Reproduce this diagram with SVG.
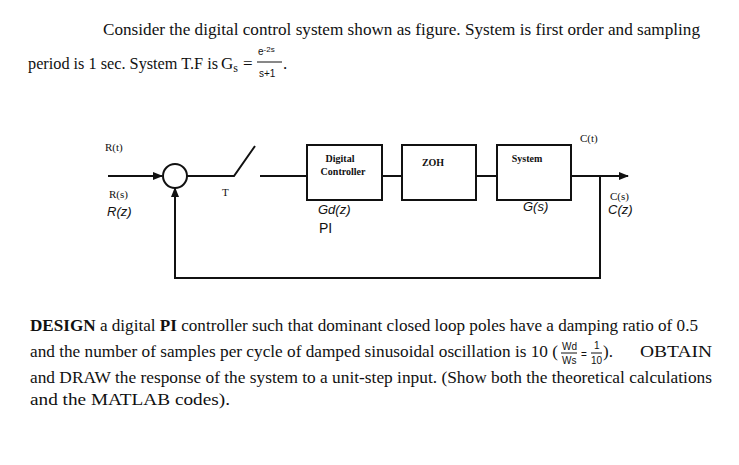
<svg xmlns="http://www.w3.org/2000/svg" width="739" height="465" viewBox="0 0 739 465">
<style>
.t{font-family:"Liberation Serif",serif;font-size:17px;fill:#111}
.s{font-family:"Liberation Serif",serif;font-size:11px;fill:#111}
.b{font-family:"Liberation Serif",serif;font-size:10px;font-weight:bold;fill:#111;text-anchor:middle}
.i{font-family:"Liberation Sans",sans-serif;font-size:13px;font-style:italic;fill:#111}
.m{font-family:"Liberation Sans",sans-serif;font-size:10px;fill:#111}
.box{fill:#fff;stroke:#111;stroke-width:2}
.ln{fill:none;stroke:#111;stroke-width:2}
</style>
<defs><marker id="a" markerWidth="10" markerHeight="8" refX="9" refY="4" orient="auto" markerUnits="userSpaceOnUse"><path d="M0,0L10,4L0,8z" fill="#111"/></marker></defs>
<rect width="739" height="465" fill="#fff"/>
<text class="t" x="103" y="35" textLength="597" lengthAdjust="spacingAndGlyphs">Consider the digital control system shown as figure. System is first order and sampling</text>
<text class="t" x="28" y="69" textLength="190" lengthAdjust="spacingAndGlyphs">period is 1 sec. System T.F is</text>
<text class="t" x="221" y="69">G<tspan font-size="12" dy="3">s</tspan></text>
<text class="t" x="243" y="69">=</text>
<line x1="257" y1="62" x2="282" y2="62" stroke="#111" stroke-width="1"/>
<text class="m" x="258" y="55">e<tspan font-size="8" dy="-3">-2s</tspan></text>
<text class="m" x="259" y="77">s+1</text>
<text class="t" x="283" y="69">.</text>
<g id="connectors">
<path class="ln" d="M108,176H162" marker-end="url(#a)"/>
<path class="ln" d="M186,176H234L255,146"/>
<path class="ln" d="M260,176H307"/>
<path class="ln" d="M382,176H402"/>
<path class="ln" d="M476,176H497"/>
<path class="ln" d="M571,176H628" marker-end="url(#a)"/>
<path class="ln" d="M600,176V278H175V188" marker-end="url(#a)"/>
</g>
<g id="sum"><circle cx="175" cy="176" r="12" class="box"/></g>
<g id="controller"><rect x="307" y="145" width="75" height="55" class="box"/>
<text class="b" x="340" y="162">Digital</text><text class="b" x="343" y="175">Controller</text></g>
<g id="zoh"><rect x="402" y="145" width="74" height="55" class="box"/><text class="b" x="433" y="166">ZOH</text></g>
<g id="system"><rect x="497" y="145" width="74" height="55" class="box"/><text class="b" x="527" y="162">System</text></g>
<text class="s" x="105" y="151">R(t)</text>
<text class="s" x="109" y="198">R(s)</text>
<text class="i" x="107" y="216">R(z)</text>
<text class="s" x="222" y="196">T</text>
<text class="i" x="318" y="214">Gd(z)</text>
<text font-family="Liberation Sans,sans-serif" font-size="14" x="319" y="233" fill="#111">PI</text>
<text class="i" x="523" y="211">G(s)</text>
<text class="s" x="580" y="142">C(t)</text>
<text class="s" x="610" y="200">C(s)</text>
<text class="i" x="608" y="214">C(z)</text>
<text class="t" x="30" y="331" textLength="668" lengthAdjust="spacingAndGlyphs"><tspan font-weight="bold">DESIGN</tspan> a digital <tspan font-weight="bold">PI</tspan> controller such that dominant closed loop poles have a damping ratio of 0.5</text>
<text class="t" x="30" y="357" textLength="528" lengthAdjust="spacingAndGlyphs">and the number of samples per cycle of damped sinusoidal oscillation is 10 (</text>
<text class="m" x="562" y="350">Wd</text><line x1="561" y1="353" x2="577" y2="353" stroke="#111" stroke-width="1"/><text class="m" x="562" y="364">Ws</text>
<text class="m" x="581" y="358">=</text>
<text class="m" x="594" y="349">1</text><line x1="591" y1="353" x2="602" y2="353" stroke="#111" stroke-width="1"/><text class="m" x="591" y="364" font-size="8">10</text>
<text class="t" x="603" y="357">).</text>
<text class="t" x="640" y="357" textLength="72" lengthAdjust="spacingAndGlyphs">OBTAIN</text>
<text class="t" x="30" y="383" textLength="682" lengthAdjust="spacingAndGlyphs">and DRAW the response of the system to a unit-step input. (Show both the theoretical calculations</text>
<text class="t" x="30" y="405" textLength="200" lengthAdjust="spacingAndGlyphs">and the MATLAB codes).</text>
</svg>
